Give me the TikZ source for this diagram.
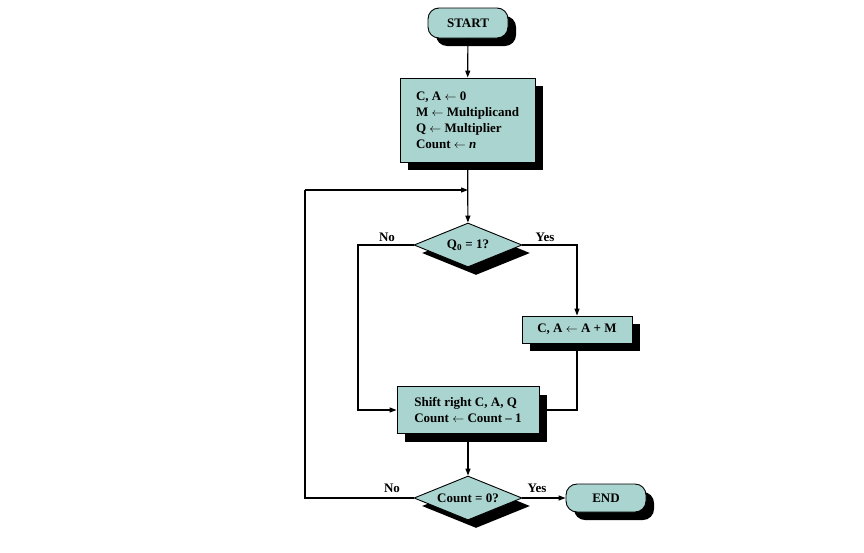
\documentclass[tikz,border=0pt]{standalone}
\usepackage{fontspec}
\setmainfont{Liberation Serif}
\usetikzlibrary{shapes.geometric,arrows.meta,shadows}
\definecolor{boxfill}{RGB}{170,212,207}
\begin{document}
\begin{tikzpicture}[x=1pt,y=-1pt,
  base/.style={draw=black,line width=0.9pt,fill=boxfill,font=\bfseries\fontsize{13}{16}\selectfont,
     drop shadow={shadow xshift=8pt,shadow yshift=-8pt,fill=black,opacity=1},inner sep=3pt},
  term/.style={base,rounded corners=11pt,minimum width=80pt,minimum height=30pt},
  proc/.style={base,rectangle,align=left},
  dec/.style={base,diamond,aspect=2.45,inner sep=1pt,minimum width=108pt,minimum height=44pt},
  lbl/.style={font=\bfseries\fontsize{13}{16}\selectfont},
  line/.style={line width=1.2pt},
  arr/.style={line,-{Triangle[length=7pt,width=5pt]}}]
\useasboundingbox (0,0) rectangle (864,552);
\fill[white] (0,0) rectangle (864,552);
\node[term] (start) at (468,23) {START};
\node[proc,minimum width=135pt,minimum height=84pt] (init) at (467.5,120) {C, A $\leftarrow$ 0\\M $\leftarrow$ Multiplicand\\Q $\leftarrow$ Multiplier\\Count $\leftarrow$ \textit{n}};
\node[dec] (q0) at (468,245) {Q\textsubscript{0} = 1?};
\node[proc,minimum width=110pt,minimum height=27pt,align=center] (add) at (577,329.5) {C, A $\leftarrow$ A + M};
\node[proc,minimum width=142pt,minimum height=47pt] (shift) at (468,410) {Shift right C, A, Q\\Count $\leftarrow$ Count -- 1};
\node[dec] (cnt) at (468,498) {Count = 0?};
\node[term,minimum height=28pt] (end) at (606,498) {END};
\coordinate (join) at (468,190);
\coordinate (lx) at (305,190);
\node[lbl] (no1) at (387,237) {No};
\node[lbl] (yes1) at (545,237) {Yes};
\node[lbl] (no2) at (392,488) {No};
\node[lbl] (yes2) at (537,488) {Yes};
\draw[arr] (start) -- (init);
\draw[arr] (init) -- (q0);
\draw[arr] (q0.east) -| (add.north);
\draw[arr] (q0.west) -- (358,245) |- (shift.west);
\draw[arr] (add.south) |- (shift.east);
\draw[arr] (shift) -- (cnt);
\draw[arr] (cnt.east) -- (end.west);
\draw[line] (cnt.west) -- (305,498) -- (lx);
\draw[arr] (lx) -- (join);
\end{tikzpicture}
\end{document}
